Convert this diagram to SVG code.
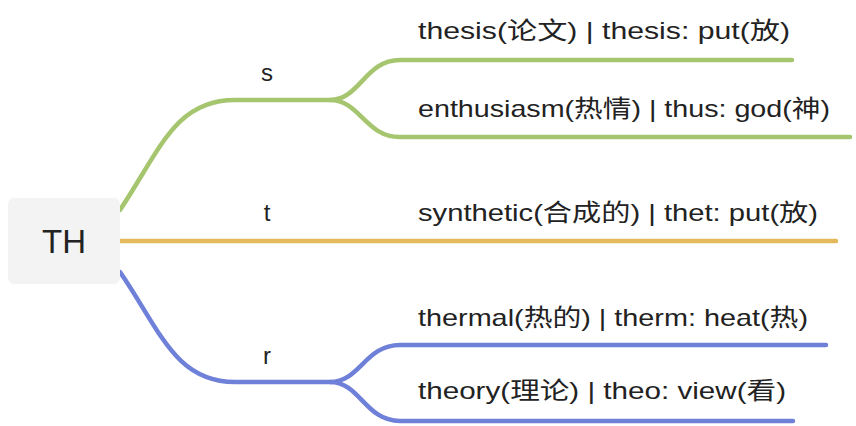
<svg xmlns="http://www.w3.org/2000/svg" width="856" height="426" viewBox="0 0 856 426">
<style>
text{font-family:"Liberation Sans","Noto Sans CJK SC",sans-serif;fill:#222}
.leaf{font-size:24px}
.br{font-size:24px}
.c{fill:none;stroke-width:4.5;stroke-linecap:round}
.g{stroke:#a5c56e}.o{stroke:#e4b95b}.b{stroke:#6e80d8}
</style>
<rect width="856" height="426" fill="#fff"/>
<g id="connectors">
<path class="c g" d="M120 210 C160 150 175 100 235 100 L330 100 C360 100 365 60 400 60 L792 60"/>
<path class="c g" d="M330 100 C360 100 365 137 400 137 L850 137"/>
<path class="c o" d="M120 241 L836 241"/>
<path class="c b" d="M120 272 C160 330 175 382 235 382 L330 382 C360 382 365 345 400 345 L826 345"/>
<path class="c b" d="M330 382 C360 382 365 421 400 421 L793 421"/>
</g>
<g id="root"><rect x="8" y="198" width="112" height="86" rx="6" fill="#f3f3f3"/><text x="64" y="253" font-size="33" text-anchor="middle">TH</text></g>
<g id="s"><text class="br" x="267" y="81" text-anchor="middle">s</text></g>
<g id="t"><text class="br" x="267" y="221" text-anchor="middle">t</text></g>
<g id="r"><text class="br" x="267" y="364" text-anchor="middle">r</text></g>
<g id="n1"><text class="leaf" x="418" y="39" textLength="372" lengthAdjust="spacingAndGlyphs">thesis(论文) | thesis: put(放)</text></g>
<g id="n2"><text class="leaf" x="418" y="117" textLength="412" lengthAdjust="spacingAndGlyphs">enthusiasm(热情) | thus: god(神)</text></g>
<g id="n3"><text class="leaf" x="418" y="221" textLength="400" lengthAdjust="spacingAndGlyphs">synthetic(合成的) | thet: put(放)</text></g>
<g id="n4"><text class="leaf" x="418" y="326" textLength="390" lengthAdjust="spacingAndGlyphs">thermal(热的) | therm: heat(热)</text></g>
<g id="n5"><text class="leaf" x="418" y="399" textLength="368" lengthAdjust="spacingAndGlyphs">theory(理论) | theo: view(看)</text></g>
</svg>
